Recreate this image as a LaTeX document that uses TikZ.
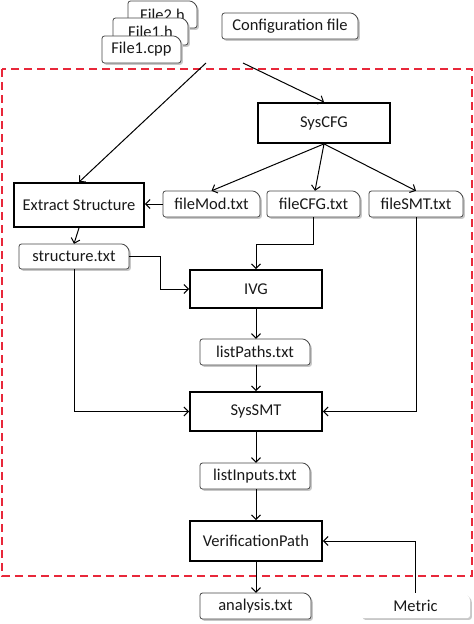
\documentclass[tikz,border=0pt]{standalone}
\usepackage{fontspec}
\setmainfont{Carlito}
\usetikzlibrary{arrows.meta}
\definecolor{dashred}{RGB}{232,40,58}
\definecolor{fborder}{RGB}{70,70,70}
\definecolor{shadowc}{RGB}{200,200,200}
\definecolor{txt}{RGB}{25,25,25}
\newcommand\fnode[7]{%
  \fill[shadowc,rounded corners=2.5pt] ({#2-#4/2+1.8},{#3+#5/2+1.8}) -- ({#2-#4/2+1.8},{#3-#5/2+1.8}) -- ({#2+#4/2-5+1.8},{#3-#5/2+1.8}) -- ({#2+#4/2+1.8},{#3-#5/2+5+1.8}) -- ({#2+#4/2+1.8},{#3+#5/2+1.8}) -- cycle;
  \path[#7,fill=white,rounded corners=2.5pt] ({#2-#4/2},{#3+#5/2}) -- ({#2-#4/2},{#3-#5/2}) -- ({#2+#4/2-5},{#3-#5/2}) -- ({#2+#4/2},{#3-#5/2+5}) -- ({#2+#4/2},{#3+#5/2}) -- cycle;
  \node[inner sep=0pt,minimum width=#4pt,minimum height=#5pt] (#1) at (#2,#3) {#6};
}
\begin{document}
\begin{tikzpicture}[x=1pt,y=-1pt,font=\fontsize{16.5}{18}\selectfont,text=txt,
  proc/.style={draw,line width=1.8pt,minimum width=132pt,inner sep=0pt},
  arr/.style={-{Straight Barb[length=4.5pt,width=9pt,line width=1pt]},line width=1pt},
  fb/.style={draw=fborder,line width=0.8pt},
  nb/.style={}]
\useasboundingbox (0,0) rectangle (474,624);
% source files
\fnode{f2}{162.5}{14.5}{69}{27}{File2.h}{fb}
\fnode{f1h}{150.5}{31.5}{75}{27}{File1.h}{fb}
\fnode{f1c}{141.5}{49.5}{79}{27}{File1.cpp}{fb}
\fnode{conf}{290}{26}{136}{26}{Configuration file}{fb}
% dashed frame
\draw[dashred,line width=1.8pt,dash pattern=on 8pt off 5pt] (2,69) rectangle (472,576);
% process boxes
\node[proc,minimum height=40pt] (syscfg) at (324,123) {SysCFG};
\node[proc,minimum width=130pt,minimum height=44pt] (extract) at (79,205) {Extract Structure};
\node[proc,minimum height=38pt] (ivg) at (256,289) {IVG};
\node[proc,minimum height=39pt] (syssmt) at (256,411.5) {SysSMT};
\node[proc,minimum height=40pt] (verif) at (256,541) {VerificationPath};
% files
\fnode{fmod}{211.5}{204}{97}{26}{fileMod.txt}{fb}
\fnode{fcfg}{313.5}{204}{93}{26}{fileCFG.txt}{fb}
\fnode{fsmt}{416}{204}{94}{26}{fileSMT.txt}{fb}
\fnode{struct}{74}{256.5}{110}{25}{structure.txt}{fb}
\fnode{lpaths}{255}{352}{110}{26}{listPaths.txt}{fb}
\fnode{linputs}{255}{476}{110}{26}{listInputs.txt}{fb}
\fnode{analysis}{255.5}{606}{111}{26}{analysis.txt}{fb}
\fnode{metric}{415.5}{605.5}{109}{25}{Metric}{nb}
% free ends
\coordinate (s1) at (206,63);
\coordinate (s2) at (243,63);
% connectors
\draw[arr] (s1) -- (extract.north);
\draw[arr] (s2) -- (syscfg.north);
\draw[arr] (syscfg.south) -- (fmod.north);
\draw[arr] (syscfg.south) -- ([xshift=1.5pt]fcfg.north);
\draw[arr] (syscfg.south) -- (fsmt.north);
\draw[arr] (fmod.west) -- (fmod.west -| extract.east);
\draw[arr] (extract.south) -- (struct.north);
\draw[arr] (struct.east) -- (160,256.5) |- (ivg.west);
\draw[arr] (fcfg.south) -- ++(0,27) -| (ivg.north);
\draw[arr] (fsmt.south) |- (syssmt.east);
\draw[arr] (struct.south) |- (syssmt.west);
\draw[arr] (ivg.south) -- (lpaths.north -| ivg.south);
\draw[arr] (lpaths.south -| ivg.south) -- (syssmt.north);
\draw[arr] (syssmt.south) -- (linputs.north -| syssmt.south);
\draw[arr] (linputs.south -| syssmt.south) -- (verif.north);
\draw[arr] (verif.south) -- (analysis.north -| verif.south);
\draw[arr] (metric.north) |- (verif.east);
\end{tikzpicture}
\end{document}
